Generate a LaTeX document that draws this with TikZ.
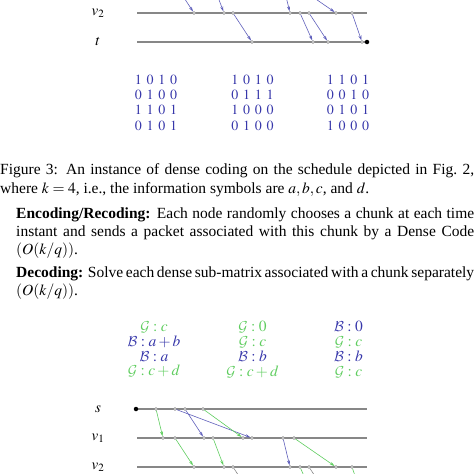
\documentclass[tikz,border=0pt]{standalone}
\usepackage{mathptmx}
\DeclareMathAlphabet{\mathcal}{OMS}{cmsy}{m}{n}
\usepackage{fontspec}
\setmainfont{Liberation Serif}
\usetikzlibrary{arrows.meta}
\definecolor{bchunk}{RGB}{55,55,170}
\definecolor{gchunk}{RGB}{95,205,95}
\definecolor{lanegray}{RGB}{135,135,135}
\tikzset{
  timeline/.style={draw=lanegray, line width=1.2pt},
  tick/.style={circle, draw=lanegray, fill=white, line width=0.4pt, inner sep=0pt, minimum size=3pt},
  msg/.style={line width=0.6pt, -{Stealth[length=5pt,width=3pt]}},
  bmsg/.style={msg, draw=bchunk!80},
  gmsg/.style={msg, draw=gchunk},
  kmsg/.style={msg, draw=lanegray},
  endpt/.style={circle, fill=black, inner sep=0pt, minimum size=4.5pt},
  lane/.style={font=\fontsize{15}{15}\selectfont},
  chunk/.style={align=center, inner sep=0pt, font=\fontsize{15.5}{14.8}\selectfont},
  bits/.style={inner sep=0pt, text=bchunk, font=\fontsize{14}{15.3}\selectfont},
  txt/.style={inner sep=0pt, align=justify, anchor=base west}
}
\newcommand{\gc}[1]{\textcolor{gchunk}{$#1$}}
\newcommand{\bc}[1]{\textcolor{bchunk}{$#1$}}

\begin{document}
\begin{tikzpicture}[x=1pt, y=-1pt]
  \useasboundingbox (0,0) rectangle (474,474);
  \clip (0,0) rectangle (474,474);

  %%%%% upper schedule (dense coding) %%%%%
  \node[lane] (lv2) at (98,13) {$v_2$};
  \node[lane] (lt) at (98,42) {$t$};
  \draw[timeline] (137,-16) -- (367,-16);
  \draw[timeline] (137,13) -- (367,13);
  \draw[timeline] (137,42) -- (367,42);
  \node[endpt] (tend) at (367,42) {};

  \foreach \x in {175,213,283,294} \node[tick] (a1-\x) at (\x,-16) {};
  \foreach \x in {194,224,233,290,300,309,336,352} \node[tick] (a2-\x) at (\x,13) {};
  \foreach \x in {252,313,328,362} \node[tick] (a3-\x) at (\x,42) {};

  \foreach \p/\q in {175/194,213/224,283/290,294/336}
    \draw[bmsg] (a1-\p) -- (a2-\q);
  \foreach \p/\q in {233/252,300/313,309/328,352/362}
    \draw[bmsg] (a2-\p) -- (a3-\q);

  % coefficient matrices
  \node[bits] (m1) at (156,104) {$\arraycolsep=2.4pt\begin{array}{cccc}1&0&1&0\\0&1&0&0\\1&1&0&1\\0&1&0&1\end{array}$};
  \node[bits] (m2) at (252.5,104) {$\arraycolsep=2.4pt\begin{array}{cccc}1&0&1&0\\0&1&1&1\\1&0&0&0\\0&1&0&0\end{array}$};
  \node[bits] (m3) at (348,104) {$\arraycolsep=2.4pt\begin{array}{cccc}1&1&0&1\\0&0&1&0\\0&1&0&1\\1&0&0&0\end{array}$};

  %%%%% text %%%%%
  \node[txt, text width=474pt, font=\fontsize{15.5}{19}\selectfont] (cap) at (0,174)
    {Figure 3: An instance of dense coding on the schedule depicted in Fig.~2,\linebreak
     where $k=4$, i.e., the information symbols are $a,b,c$, and~$d$.};
  \node[txt, text width=458pt, font=\fontsize{15.5}{18}\selectfont] (enc) at (16,218)
    {\textbf{Encoding/Recoding:} Each node randomly chooses a chunk at each time\linebreak
     instant and sends a packet associated with this chunk by a Dense Code\linebreak
     $(O(k/q))$.};
  \node[txt, text width=458pt, font=\fontsize{15.5}{18}\selectfont] (dec) at (16,277)
    {\textbf{Decoding:} Solve each dense sub-matrix associated with a chunk separately\linebreak
     $(O(k/q))$.};

  %%%%% lower schedule (chunked coding) %%%%%
  \node[chunk] (c1) at (154,349.5) {\gc{\mathcal{G}:c}\\ \bc{\mathcal{B}:a+b}\\ \bc{\mathcal{B}:a}\\ \gc{\mathcal{G}:c+d}};
  \node[chunk] (c2) at (252.5,349.5) {\gc{\mathcal{G}:0}\\ \gc{\mathcal{G}:c}\\ \bc{\mathcal{B}:b}\\ \gc{\mathcal{G}:c+d}};
  \node[chunk] (c3) at (348.5,349.5) {\bc{\mathcal{B}:0}\\ \gc{\mathcal{G}:c}\\ \bc{\mathcal{B}:b}\\ \gc{\mathcal{G}:c}};

  \node[lane] (ls) at (98,409) {$s$};
  \node[lane] (lv1) at (98,438) {$v_1$};
  \node[lane] (lw2) at (98,467) {$v_2$};
  \draw[timeline] (136,409) -- (367,409);
  \draw[timeline] (137,438) -- (367,438);
  \draw[timeline] (137,467) -- (367,467);
  \draw[timeline] (137,496) -- (367,496);
  \node[endpt] (sstart) at (136,409) {};

  \foreach \x in {156,175,185,203} \node[tick] (b0-\x) at (\x,409) {};
  \foreach \x in {163,175,204,213,243,252,283,294} \node[tick] (b1-\x) at (\x,438) {};
  \foreach \x in {194,224,233,290,300,309,336,352} \node[tick] (b2-\x) at (\x,467) {};
  \foreach \x in {252,313,328,362} \node[tick] (b3-\x) at (\x,496) {};

  \draw[gmsg] (b0-156) -- (b1-163);
  \draw[bmsg] (b0-175) -- (b1-252);
  \draw[bmsg] (b0-185) -- (b1-204);
  \draw[gmsg] (b0-203) -- (b1-243);
  \draw[gmsg] (b1-175) -- (b2-194);
  \draw[gmsg] (b1-213) -- (b2-224);
  \draw[bmsg] (b1-283) -- (b2-290);
  \draw[gmsg] (b1-294) -- (b2-336);
  \draw[kmsg] (b2-233) -- (b3-252);
  \draw[gmsg] (b2-300) -- (b3-313);
  \draw[kmsg] (b2-309) -- (b3-328);
  \draw[gmsg] (b2-352) -- (b3-362);
\end{tikzpicture}
\end{document}
